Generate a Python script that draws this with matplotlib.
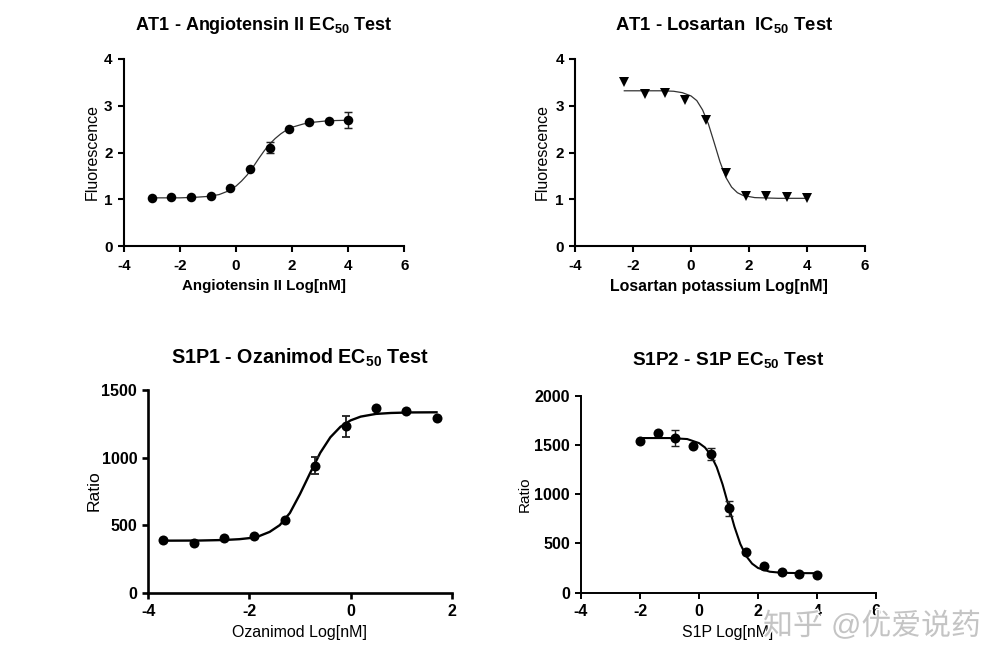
import numpy as np
import matplotlib
matplotlib.use('Agg')
import matplotlib.pyplot as plt
import matplotlib.patheffects as pe

plt.rcParams['font.family'] = ['Liberation Sans', 'Noto Sans CJK SC', 'DejaVu Sans']
plt.rcParams['mathtext.fontset'] = 'custom'
plt.rcParams['mathtext.rm'] = 'Liberation Sans:bold'
plt.rcParams['mathtext.default'] = 'rm'

W, H = 1006, 666

# AT1 - Angiotensin II
at1_x = [-3, -2.3, -1.6, -0.9, -0.2, 0.5, 1.2, 1.9, 2.6, 3.3, 4]
at1_y = [1.03, 1.05, 1.04, 1.06, 1.23, 1.64, 2.1, 2.5, 2.65, 2.67, 2.7]
at1_err = [0, 0, 0, 0, 0, 0, 0.12, 0, 0, 0, 0.17]
at1_cx = [-3, -2, -1.5, -1, -0.6, -0.3, 0, 0.2, 0.4, 0.6, 0.8, 1, 1.2, 1.4, 1.6, 1.8, 2, 2.4, 2.8, 3.3, 4]
at1_cy = [1.03, 1.03, 1.04, 1.06, 1.10, 1.17, 1.28, 1.39, 1.52, 1.68, 1.86, 2.03, 2.18, 2.30, 2.40, 2.48,
          2.54, 2.61, 2.65, 2.68, 2.69]

# AT1 - Losartan
los_x = [-2.3, -1.6, -0.9, -0.2, 0.5, 1.2, 1.9, 2.6, 3.3, 4]
los_y = [3.5, 3.25, 3.28, 3.13, 2.7, 1.56, 1.07, 1.06, 1.04, 1.03]
los_cx = [-2.3, -1, -0.6, -0.3, 0, 0.2, 0.4, 0.6, 0.8, 1, 1.2, 1.4, 1.6, 1.8, 2.2, 3, 4]
los_cy = [3.32, 3.32, 3.31, 3.28, 3.21, 3.11, 2.91, 2.61, 2.21, 1.80, 1.47, 1.26, 1.14, 1.08, 1.035, 1.02, 1.02]

# S1P1 - Ozanimod
oza_x = [-3.7, -3.1, -2.5, -1.9, -1.3, -0.7, -0.1, 0.5, 1.1, 1.7]
oza_y = [390, 370, 405, 420, 535, 940, 1230, 1365, 1345, 1295]
oza_err = [0, 0, 0, 0, 0, 65, 75, 0, 0, 0]
oza_cx = [-3.7, -3, -2.5, -2.2, -2, -1.8, -1.6, -1.4, -1.2, -1, -0.8, -0.6, -0.4, -0.2, 0, 0.2, 0.5, 0.8, 1.2, 1.7]
oza_cy = [385, 386, 390, 396, 404, 420, 450, 500, 590, 730, 885, 1035, 1150, 1228, 1275, 1303, 1323, 1330, 1334, 1335]

# S1P2 - S1P
s1p_x = [-2, -1.4, -0.8, -0.2, 0.4, 1, 1.6, 2.2, 2.8, 3.4, 4]
s1p_y = [1540, 1625, 1570, 1485, 1405, 855, 415, 275, 215, 190, 180]
s1p_err = [0, 0, 80, 0, 60, 75, 0, 0, 0, 0, 0]
s1p_cx = [-2, -1, -0.4, 0, 0.2, 0.4, 0.6, 0.8, 1, 1.2, 1.4, 1.6, 1.8, 2, 2.4, 2.8, 3.4, 4]
s1p_cy = [1570, 1570, 1560, 1519, 1475, 1398, 1275, 1099, 885, 671, 495, 372, 295, 251, 213, 202, 199, 198]


def make_axes(left, right, top, bottom):
    return fig.add_axes([left / W, 1 - bottom / H, (right - left) / W, (bottom - top) / H])


def draw_panel(ax, x, y, err, cx, cy, marker, ms, lw, line_color, xlim, ylim, xticks, yticks,
               spine_w, tick_fs, xpad):
    ax.plot(cx, cy, color=line_color, lw=lw, zorder=2)
    if err is not None:
        ax.errorbar(x, y, yerr=err, fmt='none', ecolor='#222222', elinewidth=max(spine_w * 0.7, 1),
                    capsize=3, capthick=max(spine_w * 0.7, 1), zorder=2)
    ax.plot(x, y, ls='none', marker=marker, ms=ms, color='black', mew=0, zorder=3)
    ax.set_xlim(xlim)
    ax.set_ylim(ylim)
    ax.set_xticks(xticks)
    ax.set_yticks(yticks)
    ax.set_xticklabels([str(t) for t in xticks])
    ax.set_yticklabels([str(t) for t in yticks])
    for s in ['top', 'right']:
        ax.spines[s].set_visible(False)
    for s in ['left', 'bottom']:
        ax.spines[s].set_linewidth(spine_w)
    ax.tick_params(width=spine_w, length=4.5, labelsize=tick_fs, pad=3.5)
    ax.tick_params(axis='x', pad=xpad)
    for lab in ax.get_xticklabels() + ax.get_yticklabels():
        lab.set_fontweight('bold')


def label_at(x_px, y_px, text, **kw):
    fig.text(x_px / W, 1 - y_px / H, text, ha='center', va='center', **kw)


fig = plt.figure(figsize=(W / 100, H / 100), dpi=100)

ax1 = make_axes(123.7, 404.3, 59, 246)
draw_panel(ax1, at1_x, at1_y, at1_err, at1_cx, at1_cy, 'o', 6.9, 0.9, '#333333',
           (-4, 6), (0, 4), [-4, -2, 0, 2, 4, 6], [0, 1, 2, 3, 4], 1.5, 11, 5)
label_at(264, 286, 'Angiotensin II Log[nM]', fontsize=10.9, fontweight='bold')
label_at(92, 152, 'Fluorescence', fontsize=11.5, rotation=90)
label_at(264, 25, 'AT1 - Angiotensin II EC$_{50}$ Test', fontsize=13, fontweight='bold')

ax2 = make_axes(575, 865, 59, 246)
draw_panel(ax2, los_x, los_y, None, los_cx, los_cy, 'v', 7.2, 0.9, '#333333',
           (-4, 6), (0, 4), [-4, -2, 0, 2, 4, 6], [0, 1, 2, 3, 4], 1.5, 11, 5)
label_at(719, 286, 'Losartan potassium Log[nM]', fontsize=11.4, fontweight='bold')
label_at(542, 152, 'Fluorescence', fontsize=11.5, rotation=90)
label_at(724, 25, 'AT1 - Losartan  IC$_{50}$ Test', fontsize=13.3, fontweight='bold')

ax3 = make_axes(148.3, 451.7, 390, 592.7)
draw_panel(ax3, oza_x, oza_y, oza_err, oza_cx, oza_cy, 'o', 7.2, 1.7, 'black',
           (-4, 2), (0, 1500), [-4, -2, 0, 2], [0, 500, 1000, 1500], 1.9, 11.5, 3.5)
label_at(300, 632, 'Ozanimod Log[nM]', fontsize=11.5)
label_at(94, 491, 'Ratio', fontsize=12.6, rotation=90)
label_at(300, 358, 'S1P1 - Ozanimod EC$_{50}$ Test', fontsize=14.2, fontweight='bold')

ax4 = make_axes(581, 876, 395.7, 592.7)
draw_panel(ax4, s1p_x, s1p_y, s1p_err, s1p_cx, s1p_cy, 'o', 7.2, 1.5, 'black',
           (-4, 6), (0, 2000), [-4, -2, 0, 2, 4, 6], [0, 500, 1000, 1500, 2000], 1.4, 11.5, 3.5)
label_at(728, 633, 'S1P Log[nM]', fontsize=11.4)
label_at(525, 494, 'Ratio', fontsize=11, rotation=90)
label_at(728, 360, 'S1P2 - S1P EC$_{50}$ Test', fontsize=13.7, fontweight='bold')

# watermark
label_at(872, 626, '知乎 @优爱说药', fontsize=21.5, color='#c4c4c4', zorder=10,
         path_effects=[pe.withStroke(linewidth=2, foreground='white')])

fig.savefig('out.png', dpi=100)
